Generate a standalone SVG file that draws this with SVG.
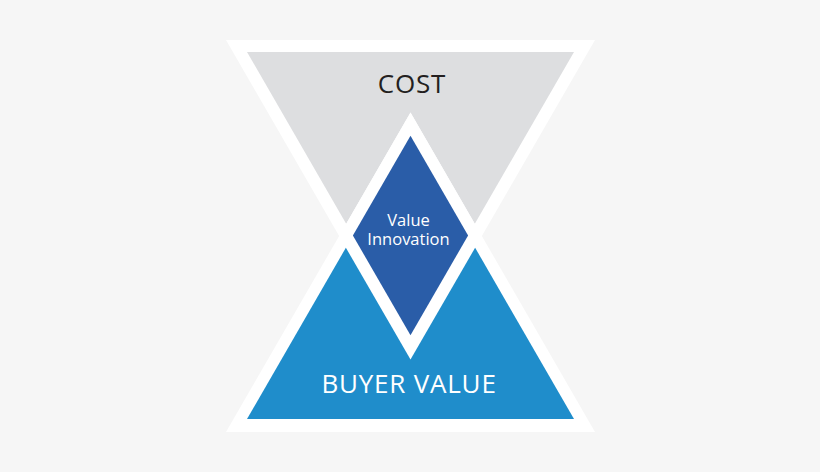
<svg xmlns="http://www.w3.org/2000/svg" width="820" height="472" viewBox="0 0 820 472">
<style>
.halo{fill:#ffffff}
.lbl{font-family:"Open Sans","Noto Sans","Liberation Sans",sans-serif;text-anchor:middle}
.big{font-size:26px;letter-spacing:0.8px}
.small{font-size:16.5px;fill:#ffffff}
</style>
<rect width="820" height="472" fill="#f6f6f6"/>
<g id="cost">
<polygon class="halo" points="226,40 595,40 410.5,359.6"/>
<polygon fill="#dddee0" points="247,52 574,52 410.5,335.2"/>
<text class="lbl big" x="412" y="93" fill="#231f20">COST</text>
</g>
<g id="buyer-value">
<polygon class="halo" points="226,432 595,432 410.5,112.4"/>
<polygon fill="#1f8dcb" points="247,419 574,419 410.5,135.8"/>
<text class="lbl big" x="409" y="393" fill="#ffffff">BUYER VALUE</text>
</g>
<g id="value-innovation">
<polygon class="halo" points="410.5,112.4 481.9,236 410.5,359.6 339.1,236"/>
<polygon fill="#2a5da8" points="410.5,135.8 468.1,235.5 410.5,335.2 352.9,235.5"/>
<text class="lbl small" x="408.5" y="225.5">Value</text>
<text class="lbl small" x="408.5" y="245">Innovation</text>
</g>
</svg>
